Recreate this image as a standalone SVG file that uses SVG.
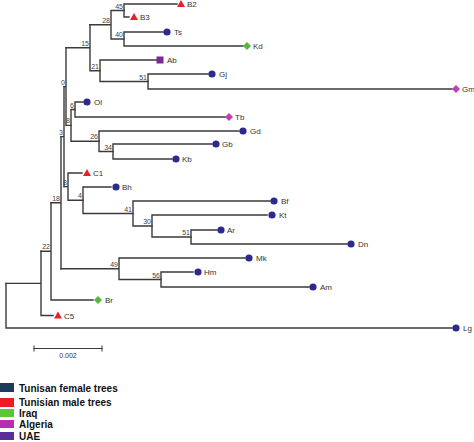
<svg xmlns="http://www.w3.org/2000/svg" width="474" height="442" viewBox="0 0 474 442">
<style>
.br{fill:none;stroke:#3a3a3a;stroke-width:1.4;stroke-linecap:square}
.lf{font-family:"Liberation Sans",Arial,sans-serif;font-size:8px;fill:#333}
.bs{font-family:"Liberation Sans",Arial,sans-serif;font-size:7px;fill:#444;text-anchor:end}
.lg{font-family:"Liberation Sans",Arial,sans-serif;font-size:10px;font-weight:bold;fill:#111}
.ci{fill:#2c2a8e}
.tr{fill:#e8202a}
.dg{fill:#55b83a}
.dm{fill:#c03cb8}
.sq{fill:#7a2a90}
</style>
<defs>
<circle id="mc" r="3.6" class="ci"/>
<path id="mt" d="M0,-4 L4,3 L-4,3 Z" class="tr"/>
<path id="md" d="M0,-4 L4,0 L0,4 L-4,0 Z"/>
<rect id="ms" x="-3.5" y="-3.5" width="7" height="7" class="sq"/>
</defs>
<rect width="474" height="442" fill="#fff"/>
<g id="connectors">
<!-- root -->
<path class="br" d="M6,283.4 V328 H452"/>
<path class="br" d="M6,283.4 H41 V251.3 M41,283.4 V315.5 H53"/>
<!-- node 22 -->
<path class="br" d="M41,251.3 H51 V202.7 M51,251.3 V300 H93"/>
<!-- node 18 -->
<path class="br" d="M51,202.7 H61 V136.6 M61,202.7 V268.8"/>
<!-- node 49 -->
<path class="br" d="M61,268.8 H119 V258 H245 M119,268.8 V279.5 H161"/>
<path class="br" d="M161,279.5 V272 H193 M161,279.5 V287 H309"/>
<!-- node 3 -->
<path class="br" d="M61,136.6 H64 V86.6 M64,136.6 V186.6"/>
<!-- node 8 -->
<path class="br" d="M64,186.6 H68 V173 H82 M68,186.6 V200.2 H83"/>
<path class="br" d="M83,200.2 V187 H111 M83,200.2 V213.5 H133"/>
<path class="br" d="M133,213.5 V201 H270 M133,213.5 V226 H152"/>
<path class="br" d="M152,226 V215 H267 M152,226 V237 H191"/>
<path class="br" d="M191,237 V230 H217 M191,237 V244 H347"/>
<!-- node 0 -->
<path class="br" d="M64,86.6 H66 V47.8 M66,86.6 V125.4 H71"/>
<path class="br" d="M71,125.4 V109.5 H75 M71,125.4 V141.3 H99"/>
<path class="br" d="M75,109.5 V102 H83 M75,109.5 V117 H225"/>
<path class="br" d="M99,141.3 V131 H239 M99,141.3 V151.5 H113"/>
<path class="br" d="M113,151.5 V144 H212 M113,151.5 V159 H172"/>
<!-- node 15 -->
<path class="br" d="M66,47.8 H90 V24.8 M90,47.8 V70.8 H100"/>
<path class="br" d="M90,24.8 H111 V10.5 H124 M111,24.8 V39 H124"/>
<path class="br" d="M124,10.5 V4 H177 M124,10.5 V17 H129"/>
<path class="br" d="M124,39 V32 H163 M124,39 V46 H243"/>
<path class="br" d="M100,70.8 V60 H157 M100,70.8 V81.5 H148"/>
<path class="br" d="M148,81.5 V74 H208 M148,81.5 V89 H452"/>
</g>
<g id="bootstrap">
<text class="bs" x="123" y="8.5">45</text>
<text class="bs" x="110" y="22.8">28</text>
<text class="bs" x="123" y="37">40</text>
<text class="bs" x="89" y="45.8">15</text>
<text class="bs" x="99" y="68.8">21</text>
<text class="bs" x="147" y="79.5">51</text>
<text class="bs" x="65" y="84.6">0</text>
<text class="bs" x="74" y="107.5">6</text>
<text class="bs" x="70" y="123.4">8</text>
<text class="bs" x="63" y="134.6">3</text>
<text class="bs" x="98" y="139.3">26</text>
<text class="bs" x="112" y="149.5">34</text>
<text class="bs" x="67" y="184.6">8</text>
<text class="bs" x="82" y="198.2">4</text>
<text class="bs" x="132" y="211.5">41</text>
<text class="bs" x="151" y="224">30</text>
<text class="bs" x="190" y="235">51</text>
<text class="bs" x="60" y="200.7">18</text>
<text class="bs" x="50" y="249.3">22</text>
<text class="bs" x="118" y="266.8">49</text>
<text class="bs" x="160" y="277.5">56</text>
</g>
<g id="B2"><use href="#mt" x="181" y="4"/><text class="lf" x="187" y="7">B2</text></g>
<g id="B3"><use href="#mt" x="134" y="17"/><text class="lf" x="140" y="20">B3</text></g>
<g id="Ts"><use href="#mc" x="167" y="32"/><text class="lf" x="174" y="35">Ts</text></g>
<g id="Kd"><use href="#md" class="dg" x="247" y="46"/><text class="lf" x="253" y="49">Kd</text></g>
<g id="Ab"><use href="#ms" x="160" y="60"/><text class="lf" x="167" y="63">Ab</text></g>
<g id="Gj"><use href="#mc" x="212" y="74"/><text class="lf" x="219" y="77">Gj</text></g>
<g id="Gm"><use href="#md" class="dm" x="456" y="89"/><text class="lf" x="462" y="92">Gm</text></g>
<g id="Ol"><use href="#mc" x="87" y="102"/><text class="lf" x="94" y="105">Ol</text></g>
<g id="Tb"><use href="#md" class="dm" x="229" y="117"/><text class="lf" x="235" y="120">Tb</text></g>
<g id="Gd"><use href="#mc" x="243" y="131"/><text class="lf" x="250" y="134">Gd</text></g>
<g id="Gb"><use href="#mc" x="216" y="144"/><text class="lf" x="222" y="147">Gb</text></g>
<g id="Kb"><use href="#mc" x="176" y="159"/><text class="lf" x="182" y="162">Kb</text></g>
<g id="C1"><use href="#mt" x="87" y="173"/><text class="lf" x="93" y="176">C1</text></g>
<g id="Bh"><use href="#mc" x="116" y="187"/><text class="lf" x="122" y="190">Bh</text></g>
<g id="Bf"><use href="#mc" x="274" y="201"/><text class="lf" x="281" y="204">Bf</text></g>
<g id="Kt"><use href="#mc" x="272" y="215"/><text class="lf" x="279" y="218">Kt</text></g>
<g id="Ar"><use href="#mc" x="221" y="230"/><text class="lf" x="227" y="233">Ar</text></g>
<g id="Dn"><use href="#mc" x="351" y="244"/><text class="lf" x="358" y="247">Dn</text></g>
<g id="Mk"><use href="#mc" x="249" y="258"/><text class="lf" x="256" y="261">Mk</text></g>
<g id="Hm"><use href="#mc" x="198" y="272"/><text class="lf" x="204" y="275">Hm</text></g>
<g id="Am"><use href="#mc" x="313" y="287"/><text class="lf" x="320" y="290">Am</text></g>
<g id="Br"><use href="#md" class="dg" x="98" y="300"/><text class="lf" x="105" y="303">Br</text></g>
<g id="C5"><use href="#mt" x="58" y="315.5"/><text class="lf" x="64" y="318.5">C5</text></g>
<g id="Lg"><use href="#mc" x="456" y="328"/><text class="lf" x="463" y="331">Lg</text></g>
<g id="scale">
<path class="br" style="stroke-width:1" d="M34,348.5 H102 M34,346 V351 M102,346 V351"/>
<text class="lf" style="font-size:7px;text-anchor:middle" x="68" y="358">0.002</text>
</g>
<g id="legend">
<rect x="0" y="383" width="14" height="9" fill="#1f3b5a"/>
<text class="lg" x="19" y="391.5">Tunisan female trees</text>
<rect x="0" y="398" width="14" height="9" fill="#ed1c24"/>
<text class="lg" x="19" y="406">Tunisian male trees</text>
<rect x="0" y="409" width="14" height="8" fill="#5dc43a"/>
<text class="lg" x="19" y="417">Iraq</text>
<rect x="0" y="420" width="14" height="8" fill="#b52fb5"/>
<text class="lg" x="19" y="428">Algeria</text>
<rect x="0" y="432" width="14" height="8" fill="#5a2e9a"/>
<text class="lg" x="19" y="440">UAE</text>
</g>
</svg>
